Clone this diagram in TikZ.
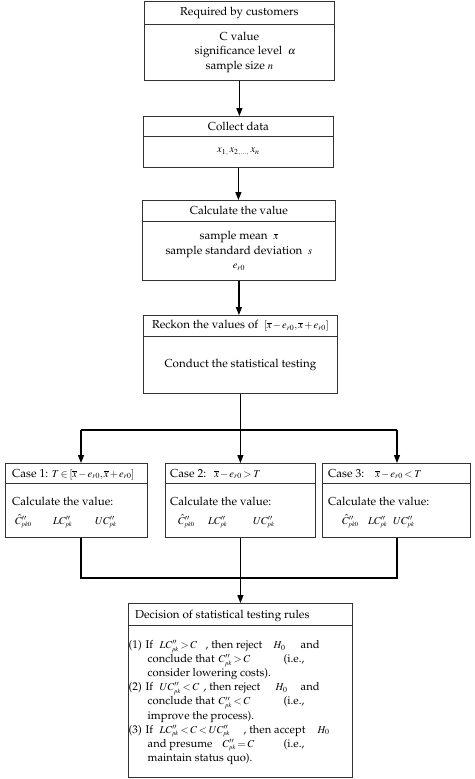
\documentclass[tikz,border=0pt]{standalone}
\usepackage[T1]{fontenc}
\usepackage{mathptmx}
\renewcommand{\rmdefault}{ppl}
\usepackage{graphicx}
\usetikzlibrary{arrows.meta,calc}
\newcommand\putat[2]{\rlap{\hspace*{#1}#2}}
\newcommand\mm[1]{{\fontsize{10.5}{12}\selectfont$\thickmuskip=3mu\medmuskip=2mu #1$}}
\newcommand\cpk[1]{#1C''_{\scriptscriptstyle pk}}
\newcommand\chatpk{\hat{C}''_{\scriptscriptstyle pk0}}
\tikzset{
  bx/.style={draw=black!80, line width=0.8pt, inner sep=0pt, anchor=north west},
  arr/.style={line width=1.3pt, -{Triangle[length=8pt,width=6pt]}},
  ln/.style={line width=1.3pt},
  tx/.style={anchor=base west, inner sep=0pt},
  dl/.style={anchor=base west, inner sep=0pt, font=\fontsize{11.2}{14}\selectfont},
}
\begin{document}
\begin{tikzpicture}[x=1pt,y=-1pt, every node/.style={font=\fontsize{11.6}{14.4}\selectfont, inner sep=0pt}]
\useasboundingbox (0,0) rectangle (474,779);
% box 1
\node[bx, minimum width=190pt, minimum height=23pt] (b1t) at (144,1) {Required by customers};
\node[bx, minimum width=190pt, minimum height=56pt, align=center] (b1c) at (144,24) {C value\\ \quad significance level \ \mm{\alpha}\\ sample size \mm{n}};
% box 2
\node[bx, minimum width=190pt, minimum height=20pt] (b2t) at (143,116) {Collect data};
\node[bx, minimum width=190pt, minimum height=31pt] (b2c) at (143,136) {\mm{x_{1,}\,x_{2,\ldots,}\,x_{n}}};
% box 3
\node[bx, minimum width=193pt, minimum height=21pt] (b3t) at (142,200) {Calculate the value};
\node[bx, minimum width=193pt, minimum height=59pt, align=center] (b3c) at (142,221) {sample mean \ \mm{\overline{x}}\\ sample standard deviation \ \mm{s}\\ \mm{e_{r0}}};
% box 4
\node[bx, minimum width=194pt, minimum height=21pt] (b4t) at (143,315) {Reckon the values of \ \mm{\left[\overline{x}-e_{r0},\overline{x}+e_{r0}\right]}};
\node[bx, minimum width=194pt, minimum height=57pt] (b4c) at (143,336) {Conduct the statistical testing};
% cases
\node[bx, minimum width=142pt, minimum height=20pt] (c1t) at (5,463) {};
\node[bx, minimum width=142pt, minimum height=54pt] (c1c) at (5,483) {};
\node[bx, minimum width=150pt, minimum height=20pt] (c2t) at (165,463) {};
\node[bx, minimum width=150pt, minimum height=54pt] (c2c) at (165,483) {};
\node[bx, minimum width=148pt, minimum height=20pt] (c3t) at (322,463) {};
\node[bx, minimum width=148pt, minimum height=54pt] (c3c) at (322,483) {};
\node[tx] (c1a) at (12,477) {Case 1: \mm{T\in\left[\overline{x}-e_{r0},\overline{x}+e_{r0}\right]}};
\node[tx] (c1b) at (12,505) {Calculate the value:};
\node[tx] (c1d) at (15,524) {\mm{\chatpk}};
\node[tx] (c1e) at (53,524) {\mm{\cpk{L}}};
\node[tx] (c1f) at (95,524) {\mm{\cpk{U}}};
\node[tx] (c2a) at (170,477) {Case 2:\putat{8pt}{\mm{\overline{x}-e_{r0}>T}}};
\node[tx] (c2b) at (170,505) {Calculate the value:};
\node[tx] (c2d) at (178,524) {\mm{\chatpk}};
\node[tx] (c2e) at (208,524) {\mm{\cpk{L}}};
\node[tx] (c2f) at (253,524) {\mm{\cpk{U}}};
\node[tx] (c3a) at (328,477) {Case 3:\putat{11pt}{\mm{\overline{x}-e_{r0}<T}}};
\node[tx] (c3b) at (328,505) {Calculate the value:};
\node[tx] (c3d) at (342,524) {\mm{\chatpk}};
\node[tx] (c3e) at (368,524) {\mm{\cpk{L}}};
\node[tx] (c3f) at (393,524) {\mm{\cpk{U}}};
% decision
\node[bx, minimum width=224pt, minimum height=22pt] (dt) at (128,603) {};
\node[bx, minimum width=224pt, minimum height=152pt] (dc) at (128,625) {};
\node[tx] (dtt) at (135,618.5) {Decision of statistical testing rules};
\node[dl] (d1) at (128,648.5) {\putat{0pt}{(1)}\putat{17pt}{If}\putat{31pt}{\mm{\cpk{L}>C}}\putat{77pt}{, then reject}\putat{145pt}{\mm{H_0}}\putat{172pt}{and}};
\node[dl] (d2) at (128,662.6) {\putat{19pt}{conclude that}\putat{90pt}{\mm{\cpk{}>C}}\putat{155pt}{(i.e.,}};
\node[dl] (d3) at (128,676.7) {\putat{19pt}{consider lowering costs).}};
\node[dl] (d4) at (128,690.8) {\putat{0pt}{(2)}\putat{17pt}{If}\putat{31pt}{\mm{\cpk{U}<C}}\putat{75pt}{, then reject}\putat{147pt}{\mm{H_0}}\putat{172pt}{and}};
\node[dl] (d5) at (128,704.9) {\putat{19pt}{conclude that}\putat{90pt}{\mm{\cpk{}<C}}\putat{155pt}{(i.e.,}};
\node[dl] (d6) at (128,719) {\putat{19pt}{improve the process).}};
\node[dl] (d7) at (128,733.1) {\putat{0pt}{(3)}\putat{17pt}{If}\putat{31pt}{\mm{\cpk{L}<C<\cpk{U}}}\putat{115pt}{, then accept}\putat{189pt}{\mm{H_0}}};
\node[dl] (d8) at (128,747.2) {\putat{19pt}{and presume}\putat{94pt}{\mm{\cpk{}=C}}\putat{155pt}{(i.e.,}};
\node[dl] (d9) at (128,761.3) {\putat{19pt}{maintain status quo).}};
% connectors
\draw[arr] (b1c.south) -- (b1c.south |- b2t.north);
\draw[arr] (b2c.south) -- (b2c.south |- b3t.north);
\draw[arr] (b3c.south) -- (b3c.south |- b4t.north);
\coordinate (jl) at (81,430);
\coordinate (jr) at (397,430);
\draw[arr] (b4c.south) -- (b4c.south |- c2t.north);
\draw[ln] (jl) -- (jr);
\draw[arr] (jl) -- (jl |- c1t.north);
\draw[arr] (jr) -- (jr |- c3t.north);
\coordinate (ml) at (81,578);
\coordinate (mr) at (397,578);
\draw[ln] (ml |- c1c.south) -- (ml) -- (mr) -- (mr |- c3c.south);
\draw[arr] (b4c.south |- c2c.south) -- (b4c.south |- dt.north);
\end{tikzpicture}
\end{document}
